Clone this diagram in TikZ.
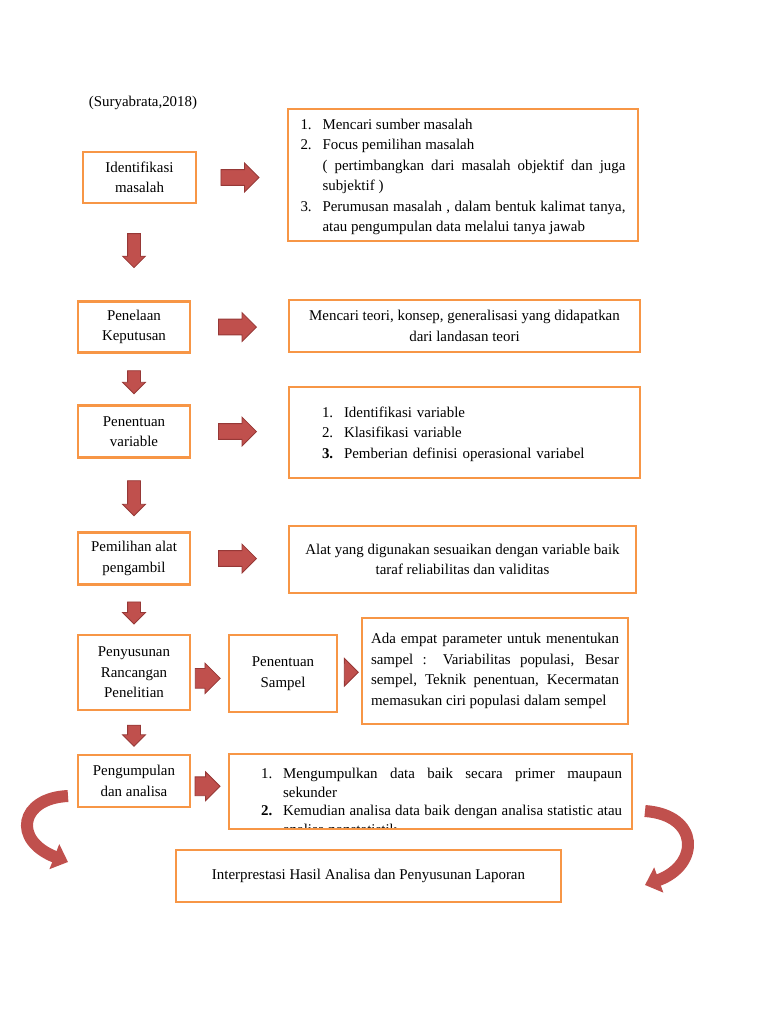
\documentclass[tikz,border=0pt]{standalone}
\usepackage{fontspec}
\setmainfont{Liberation Serif}
\usepackage{enumitem}
\usetikzlibrary{calc,shapes,arrows,arrows.meta,positioning}
\definecolor{boxorange}{RGB}{247,150,70}
\definecolor{arrowred}{RGB}{192,80,77}
\definecolor{arrowedge}{RGB}{150,56,54}
\setlist[enumerate]{nosep, label=\arabic*., leftmargin=16.5pt, labelwidth=12pt, labelsep=4.5pt, align=left}
\tikzset{%
    stepbox/.style={%
        rectangle, draw=boxorange, line width=1.8pt, minimum width=84pt, minimum height=39pt, inner sep=0pt, align=center
    },
    infobox/.style={%
        rectangle, draw=boxorange, line width=1.8pt, inner sep=0pt
    },
    txt/.style={},
    blockarrow/.style n args={3}{%
        single arrow, draw=arrowedge, fill=arrowred, line width=0.6pt, inner xsep=0pt, inner ysep=#2, single arrow head indent=0pt, minimum height=#1, single arrow head extend=#3
    },
    rightarrow/.style={%
        blockarrow={28.5pt}{5.6pt}{4.9pt}, xshift=-4.5pt
    },
    downarrow/.style={%
        blockarrow={#1}{4.5pt}{3.75pt}, rotate=-90
    },
    bendarrow/.style={%
        draw=arrowred, line width=9pt, -{Triangle[width=19.5pt,length=11pt]}
    },
}
\begin{document}
\begin{tikzpicture}[x=0.75pt, y=-0.75pt, font=\fontsize{11.2pt}{15.4pt}\selectfont]
      \useasboundingbox (0,0) rectangle (768,1024);
      \node[txt] (sumber) at (143,103) {(Suryabrata,2018)};

      % left column
      \node[stepbox, minimum width=84.75pt, minimum height=38.25pt] (identifikasi) at (139.5,177.5) {Identifikasi\\masalah};
      \node[stepbox, minimum height=38.25pt] (penelaan) at (134,327) {Penelaan\\Keputusan};
      \node[stepbox] (penentuan) at (134,431.5) {Penentuan\\variable};
      \node[stepbox] (pemilihan) at (134,558.5) {Pemilihan alat\\pengambil};
      \node[stepbox, minimum height=56.25pt] (penyusunan) at (134,672.5) {Penyusunan\\Rancangan\\Penelitian};
      \node[stepbox] (pengumpulan) at (134,781) {Pengumpulan\\dan analisa};
      \node[stepbox, minimum width=81pt, minimum height=57.75pt] (sampel) at (283,673.5) {Penentuan\\Sampel};

      % right column
      \node[infobox, minimum width=262.5pt, minimum height=99pt, text width=243.75pt, align=justify] (masalah) at (463,175) {%
        \begin{enumerate}
          \item Mencari sumber masalah
          \item Focus pemilihan masalah\\( pertimbangkan dari masalah objektif dan juga\linebreak subjektif )
          \item Perumusan masalah , dalam bentuk kalimat tanya,\linebreak atau pengumpulan data melalui tanya jawab
        \end{enumerate}\par\kern4.5pt};
      \node[infobox, minimum width=263.25pt, minimum height=39pt, align=center] (teori) at (464.5,326) {Mencari teori, konsep, generalisasi yang didapatkan\\dari landasan teori};
      \node[infobox, minimum width=263.25pt, minimum height=68.25pt, text width=213.75pt, align=left] (variabel) at (464.5,432.5) {%
        \begin{enumerate}
          \item Identifikasi variable
          \item Klasifikasi variable
          \item[\textbf{3.}] Pemberian definisi operasional variabel
        \end{enumerate}\par\kern5pt};
      \node[infobox, minimum width=260.25pt, minimum height=50.25pt, align=center] (reliabilitas) at (462.5,559.5) {Alat yang digunakan sesuaikan dengan variable baik\\taraf reliabilitas dan validitas};
      \node[infobox, minimum width=199.5pt, minimum height=79.5pt, text width=186pt, align=justify] (parameter) at (495,671) {Ada empat parameter untuk menentukan\linebreak sampel : Variabilitas populasi, Besar\linebreak sempel, Teknik penentuan, Kecermatan\linebreak memasukan ciri populasi dalam sempel};
      \node[infobox, minimum width=302.25pt, minimum height=56.25pt] (analisa) at (430.5,791.5) {};
      \begin{scope}
        \clip ($(analisa.north west)+(2.5,2.5)$) rectangle ($(analisa.south east)+(-2.5,-2.5)$);
        \node[anchor=north west, text width=270.75pt, align=justify, inner sep=0pt, font=\fontsize{11.2pt}{13.9pt}\selectfont] (analisatext) at ($(analisa.north west)+(33,7)$) {%
          \begin{enumerate}
            \item Mengumpulkan data baik secara primer maupaun\linebreak sekunder
            \item[\textbf{2.}] Kemudian analisa data baik dengan analisa statistic atau\linebreak analisa nonstatistik
          \end{enumerate}};
      \end{scope}
      \node[infobox, minimum width=288.75pt, minimum height=39pt] (laporan) at (368.5,876) {Interprestasi Hasil Analisa dan Penyusunan Laporan};

      % block arrows
      \node[rightarrow] (ke masalah) at ($(identifikasi.east)!.5!(identifikasi.east-|masalah.west)$) {};
      \node[rightarrow] (ke teori) at ($(penelaan.east)!.5!(penelaan.east-|teori.west)$) {};
      \node[rightarrow] (ke variabel) at ($(penentuan.east)!.5!(penentuan.east-|variabel.west)$) {};
      \node[rightarrow] (ke reliabilitas) at ($(pemilihan.east)!.5!(pemilihan.east-|reliabilitas.west)$) {};
      \node[blockarrow={18.75pt}{7.1pt}{4.1pt}, xshift=-5pt, yshift=-4pt] (ke sampel) at ($(penyusunan.east)!.5!(sampel.west)$) {};
      \node[blockarrow={10.5pt}{6.4pt}{3.75pt}, xshift=-2pt] (ke parameter) at ($(sampel.east)!.5!(parameter.west)$) {};
      \node[blockarrow={18.75pt}{6.75pt}{3.75pt}, xshift=-5pt] (ke analisa) at ($(pengumpulan.east)!.5!(analisa.west)$) {};

      \node[downarrow=25.5pt] (turun1) at ($(identifikasi.south-|penelaan.north)!.45!(penelaan.north)$) {};
      \node[downarrow=17.25pt] (turun2) at ($(penelaan.south)!.5!(penentuan.north)$) {};
      \node[downarrow=26.25pt] (turun3) at ($(penentuan.south)!.5!(pemilihan.north)$) {};
      \node[downarrow=16.5pt] (turun4) at ($(pemilihan.south)!.5!(penyusunan.north)$) {};
      \node[downarrow=15.75pt] (turun5) at ($(penyusunan.south)!.5!(pengumpulan.north)$) {};

      % curved arrows
      \coordinate (kiri awal) at (68,796);
      \coordinate (kiri ujung) at (68,862);
      \coordinate (kanan awal) at (645,811);
      \coordinate (kanan ujung) at (645,885);
      \draw[bendarrow] (kiri awal) .. controls (20,798) and (12,840) .. (kiri ujung);
      \draw[bendarrow] (kanan awal) .. controls (700,815) and (700,865) .. (kanan ujung);
    \end{tikzpicture}
\end{document}
